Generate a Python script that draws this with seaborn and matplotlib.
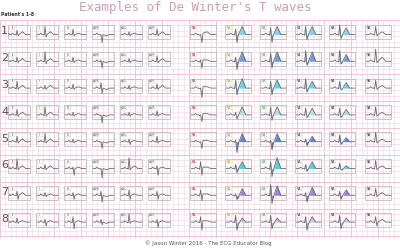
import numpy as np
import pandas as pd
import matplotlib
matplotlib.use("Agg")
import matplotlib.pyplot as plt
from matplotlib.patches import Rectangle, FancyBboxPatch
import seaborn as sns

# ---------------- data ----------------
leads = ["I", "II", "III", "aVR", "aVL", "aVF", "V1", "V2", "V3", "V4", "V5", "V6"]
patients = ["1.", "2.", "3.", "4.", "5.", "6.", "7.", "8."]
title = "Examples of De Winter's T waves"
subtitle = "Patient's 1-8"
footer = "\u00a9 Jason Winter 2016 - The ECG Educator Blog"

# amplitudes (pixels), rows = patients, cols = leads
R_AMP = [
    [3, 6, 4, 0, 2, 4, 0, 4, 5, 6, 7, 6],
    [3, 7, 3, 1, 2, 4, 1, 3, 6, 8, 8, 9],
    [5, 2, 3, 4, 2, 3, 0, 6, 5, 7, 5, 6],
    [4, 6, 2, 0, 2, 3, 0, 2, 6, 5, 5, 6],
    [4, 6, 2, 0, 2, 4, 0, 1, 1, 2, 5, 7],
    [7, 3, 1, 0, 8, 2, 5, 3, 5, 3, 4, 6],
    [3, 2, 2, 3, 4, 3, 4, 1, 8, 2, 3, 5],
    [3, 2, 4, 2, 6, 2, 4, 5, 5, 4, 5, 4],
]
S_AMP = [
    [1, 2, 1, 6, 1, 1, 6, 6, 6, 4, 3, 1],
    [1, 2, 1, 5, 1, 1, 5, 6, 5, 3, 2, 1],
    [1, 1, 1, 4, 1, 1, 7, 5, 5, 3, 1, 1],
    [1, 1, 1, 6, 1, 1, 5, 3, 4, 2, 2, 1],
    [1, 1, 1, 5, 2, 1, 5, 8, 6, 3, 2, 1],
    [1, 1, 5, 7, 1, 5, 5, 3, 6, 2, 1, 1],
    [3, 1, 3, 5, 3, 3, 4, 3, 6, 5, 3, 1],
    [1, 3, 5, 2, 1, 4, 6, 6, 5, 6, 5, 3],
]
J_AMP = [
    [0, 0, 0, 0, 0, 0, 1, -1, -1, -1, -1, 0],
    [0, 0, 0, 0, 0, 0, 1, -1, -1, -1, -1, 0],
    [0, 0, 0, 0, 0, 0, 1, -1, -1, -1, -1, 0],
    [0, 0, 0, 0, 0, 0, 1, -1, -1, -1, -1, 0],
    [0, 0, 0, 0, 0, 0, 1, -2, -2, -1, -1, 0],
    [0, 0, 0, 0, 0, 0, 1, -1, -2, -1, -1, 0],
    [0, 0, 0, 0, 0, 0, 1, -2, -2, -2, -1, 0],
    [0, 0, 0, 0, 0, 0, 1, -2, -2, -2, -2, 0],
]
T_AMP = [
    [2, 2, 1, -1, 1, 2, 2, 6, 6, 6, 5, 2],
    [2, 2, 1, -1, 1, 2, 1, 7, 7, 7, 5, 3],
    [2, 2, 1, -1, 1, 2, 1, 7, 6, 5, 4, 2],
    [2, 2, 1, -1, 1, 1, 1, 6, 6, 5, 4, 2],
    [2, 2, 1, -1, 1, 1, 1, 6, 6, 4, 3, 2],
    [2, 2, 1, -1, 2, 1, 1, 5, 8, 5, 2, 2],
    [2, 1, 1, -1, 1, 1, 1, 5, 7, 6, 4, 2],
    [1, 1, 1, -1, 1, 1, 1, 3, 3, 4, 3, 2],
]
P_AMP = 1
FILL_LEADS = ["V2", "V3", "V4", "V5"]
FILL_COLORS = ["#7fd3ec", "#6f9be3", "#5cd6ec", "#b5dde3",
               "#5b86dc", "#4fd0dc", "#9c82e6", "#c9bff2"]
LEAD_COLORS = ["#c0392b", "#b5b52a", "#6aaa6a", "#8a8a8a", "#8a8a8a", "#8a8a8a",
               "#c0392b", "#b5b52a", "#6aaa6a", "#666666", "#444444", "#5a4a7a"]

# ---------------- layout ----------------
W, H = 400, 248
col_left = [8, 36, 64, 92, 120, 148, 190, 225, 260, 295, 329, 365]
col_w = [22] * 6 + [26] * 6
row_top0, row_step, box_h = 25, 26.8, 14
base_off = 9.5
amp_scale = 1.35
# beat template timing (fraction of box width)
t_key = [0.05, 0.16, 0.22, 0.28, 0.34, 0.37, 0.41, 0.46, 0.50, 0.66, 0.80, 1.0]

sns.set_style("white")
fig = plt.figure(figsize=(W / 100, H / 100), dpi=100)
ax = fig.add_axes([0, 0, 1, 1])

# ECG paper grid
g_top, g_bot = 20, 238
minor = 5.4
xs = np.arange(0, W + 1, minor)
ys = np.arange(g_top, g_bot + 0.1, minor)
for i, x in enumerate(xs):
    major = i % 5 == 0
    ax.vlines(x, g_top, g_bot, color="#ebbccd" if major else "#f6d8e3",
              lw=0.6 if major else 0.45, zorder=0)
for i, y in enumerate(ys):
    major = i % 5 == 0
    ax.hlines(y, 0, W, color="#ebbccd" if major else "#f6d8e3",
              lw=0.6 if major else 0.45, zorder=0)

# build traces
records = []
for r in range(len(patients)):
    top = row_top0 + r * row_step
    base = top + base_off
    for c, lead in enumerate(leads):
        amps = [0, 0, P_AMP, 0, 0, -0.5, R_AMP[r][c], -S_AMP[r][c],
                J_AMP[r][c], T_AMP[r][c], 0, 0]
        for k, (t, a) in enumerate(zip(t_key, amps)):
            records.append({"cell": r * 12 + c, "row": r, "lead": lead, "k": k,
                            "x": col_left[c] + t * col_w[c],
                            "y": base - a * amp_scale, "base": base})
df = pd.DataFrame(records)

# cell boxes and badges
for r in range(len(patients)):
    top = row_top0 + r * row_step
    ax.text(1.0, top + 6.5, patients[r], fontsize=8, color="#555555",
            va="center", ha="left", family="Liberation Sans Narrow")
    for c, lead in enumerate(leads):
        ax.add_patch(Rectangle((col_left[c], top), col_w[c], box_h, fill=False,
                               edgecolor="#bdbdbd", lw=0.6, zorder=1))
        ax.add_patch(FancyBboxPatch((col_left[c] + 1.5, top + 1.2), 5.0, 3.0,
                                    boxstyle="round,pad=0.3", facecolor="white",
                                    edgecolor="#d5d5d5", lw=0.35, zorder=3))
        ax.text(col_left[c] + 4.0, top + 2.7, lead, fontsize=2.2,
                color=LEAD_COLORS[c], ha="center", va="center", zorder=4,
                fontweight="bold")

# fills for De Winter T waves
for (cell, lead), g in df.groupby(["cell", "lead"]):
    if lead in FILL_LEADS:
        g = g.sort_values("k")
        seg = g[g["k"] >= 4]
        ax.fill_between(seg["x"], seg["y"], seg["base"],
                        color=FILL_COLORS[int(g["row"].iloc[0])], lw=0, zorder=2)

sns.lineplot(data=df, x="x", y="y", units="cell", estimator=None, sort=False,
             color="#6a6a6a", lw=0.6, ax=ax, zorder=5, legend=False)
ax.set_xlim(0, W)
ax.set_ylim(H, 0)
ax.axis("off")

ax.text(195, 8, title, fontsize=9, family="DejaVu Sans Mono", color="#cc9db3",
        ha="center", va="center")
ax.text(1, 14.5, subtitle, fontsize=3.3, color="#333333", ha="left", va="center",
        fontweight="bold")
ax.text(208, 243, footer, fontsize=4, color="#555555", ha="center", va="center")

fig.savefig("out.png", dpi=100)
